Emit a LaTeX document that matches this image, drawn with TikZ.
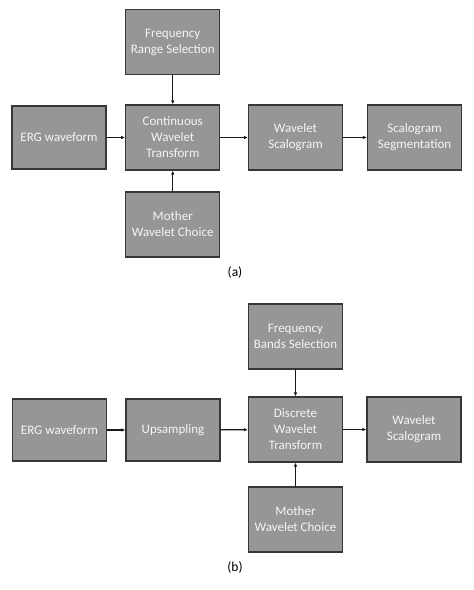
\documentclass[tikz,border=0pt]{standalone}
\usepackage{fontspec}
\setmainfont{Carlito}
\usetikzlibrary{arrows.meta}
\definecolor{boxfill}{RGB}{150,150,150}
\definecolor{boxline}{RGB}{55,55,55}
\definecolor{boxtext}{RGB}{245,245,245}
\tikzset{
  blk/.style={draw=boxline, line width=1.2pt, fill=boxfill, text=boxtext,
    font=\fontsize{13}{16}\selectfont, align=center, inner sep=2pt,
    minimum width=94pt, minimum height=65pt},
  conn/.style={line width=1.2pt, draw=black!90, -{Latex[length=4pt,width=3.5pt]}},
  caplabel/.style={font=\fontsize{13.5}{16}\selectfont, text=black}
}
\begin{document}
\begin{tikzpicture}[x=1pt,y=-1pt]
\useasboundingbox (0,0) rectangle (474,590);
% (a)
\node[blk] (fr) at (172.75,42.25) {Frequency\\Range Selection};
\node[blk, minimum height=63pt] (erg) at (59,137.5) {ERG waveform};
\node[blk] (cwt) at (172.75,137.5) {Continuous\\Wavelet\\Transform};
\node[blk] (ws) at (295.5,137.5) {Wavelet\\Scalogram};
\node[blk] (ss) at (414.5,137.5) {Scalogram\\Segmentation};
\node[blk] (mw) at (172.75,224.5) {Mother\\Wavelet Choice};
\node[caplabel] (la) at (235,272) {(a)};
\draw[conn] (fr) -- (cwt);
\draw[conn] (mw) -- (cwt);
\draw[conn] (erg) -- (cwt);
\draw[conn] (cwt) -- (ws);
\draw[conn] (ws) -- (ss);
% (b)
\node[blk] (fb) at (295.5,336.5) {Frequency\\Bands Selection};
\node[blk, minimum height=62pt] (erg2) at (59.5,430) {ERG waveform};
\node[blk, minimum height=62pt] (up) at (173,430) {Upsampling};
\node[blk] (dwt) at (295.5,429.5) {Discrete\\Wavelet\\Transform};
\node[blk] (ws2) at (414,429.5) {Wavelet\\Scalogram};
\node[blk] (mw2) at (295.5,519.5) {Mother\\Wavelet Choice};
\node[caplabel] (lb) at (235,567) {(b)};
\draw[conn] (fb) -- (dwt);
\draw[conn] (mw2) -- (dwt);
\draw[conn] (erg2) -- (up);
\draw[conn] (up) -- (dwt);
\draw[conn] (dwt) -- (ws2);
\end{tikzpicture}
\end{document}
